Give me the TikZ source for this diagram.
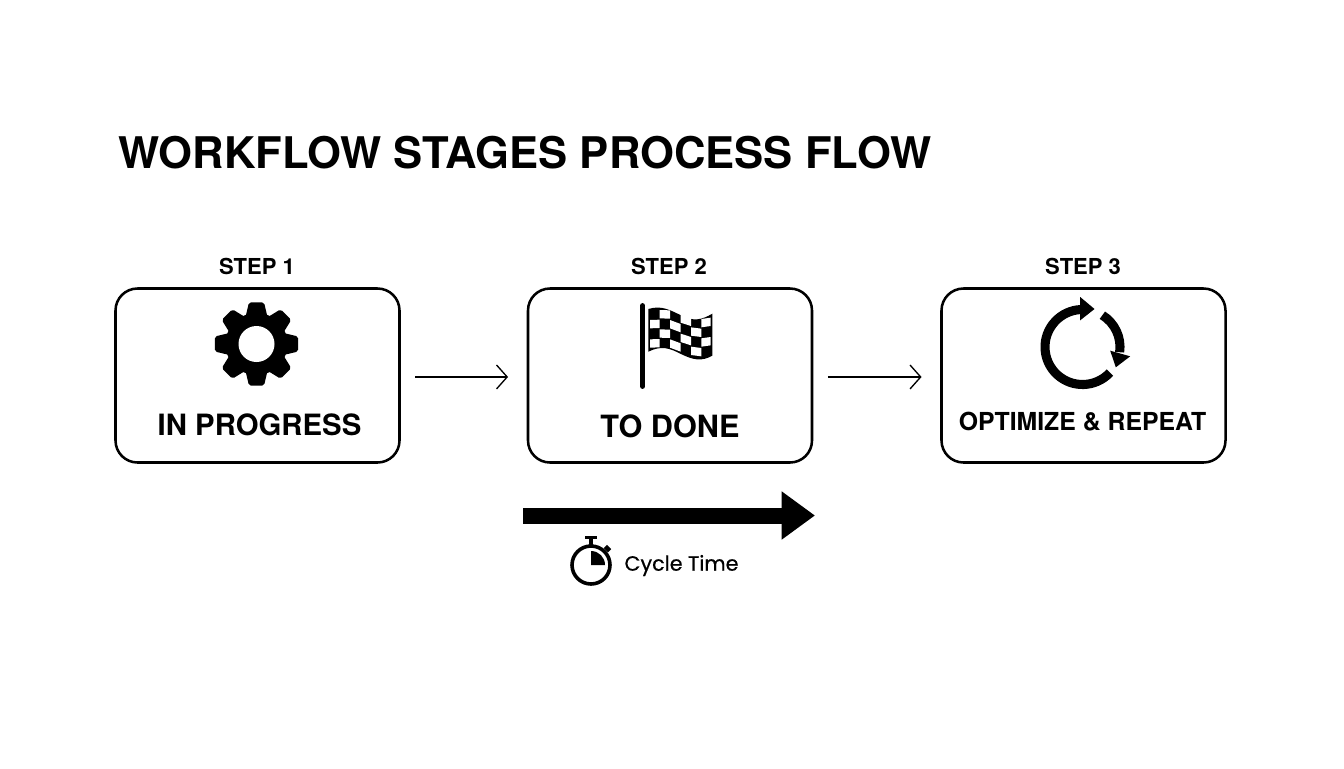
\documentclass[tikz,border=0pt]{standalone}
\usepackage{fontspec}
\usetikzlibrary{arrows.meta}
\setmainfont{TeX Gyre Heros}
\newfontfamily\timefont[FakeBold=0.6]{Poppins}
\tikzset{every picture/.style={line width=0.75pt}}
\tikzset{
  stagebox/.style={draw, line width=1.9pt, rounded corners=16.5pt, minimum width=213pt, minimum height=130.5pt, inner sep=0pt},
  steptext/.style={inner sep=0pt, font=\fontsize{16.5}{18}\selectfont\bfseries},
  stagetext/.style={inner sep=0pt, font=\fontsize{22}{24}\selectfont\bfseries},
  flowarrow/.style={line width=1pt, -{Straight Barb[length=8pt,width=18pt,line width=1pt]}, shorten <=11pt, shorten >=14pt},
  cyclearrow/.style={line width=12pt, -{Triangle[length=25pt,width=34.5pt]}},
}

\begin{document}
\begin{tikzpicture}[x=0.75pt,y=0.75pt,yscale=-1,xscale=1]
\useasboundingbox (0,0) rectangle (1344,768);

% Text Node
\draw (118,152.5) node [anchor=west, inner sep=0pt, font=\fontsize{32.7}{36}\selectfont\bfseries] (title) {WORKFLOW STAGES PROCESS FLOW};

%Shape: Rounded Rect
\draw (257.5,375.5) node [stagebox] (box1) {};
\draw (670,375.5) node [stagebox] (box2) {};
\draw (1083.5,375.5) node [stagebox] (box3) {};

% Text Node
\draw (257,266) node [steptext] (step1) {STEP 1};
\draw (669,266) node [steptext] (step2) {STEP 2};
\draw (1083,266) node [steptext] (step3) {STEP 3};
\draw (259.5,425) node [stagetext] (stage1) {IN PROGRESS};
\draw (670,426) node [stagetext, font=\fontsize{23}{24}\selectfont\bfseries] (stage2) {TO DONE};
\draw (1082.5,422) node [stagetext, font=\fontsize{18.6}{24}\selectfont\bfseries] (stage3) {OPTIMIZE \& REPEAT};
\draw (681.5,565.5) node [inner sep=0pt, font=\fontsize{15.5}{18}\selectfont\timefont] (cycle) {Cycle Time};

%Straight Lines
\draw [flowarrow] ([yshift=1.1pt]box1.east) -- ([yshift=1.1pt]box2.west);
\draw [flowarrow] ([yshift=1.1pt]box2.east) -- ([yshift=1.1pt]box3.west);

%Thick Arrow
\coordinate (cyclestart) at (523,515.5);
\coordinate (cycleend) at (815,515.5);
\draw [cyclearrow] (cyclestart) -- (cycleend);

%Shape: Gear
\fill (256.5,344) circle [radius=31];
\foreach \ang in {0,45,...,315} {
  \fill [rounded corners=1.5pt, shift={(256.5,344)}, rotate=\ang] (-11,-27) -- (-7.5,-41.7) -- (7.5,-41.7) -- (11,-27) -- cycle;
}
\fill [white] (256.5,344) circle [radius=18];

%Shape: Flag
\begin{scope}[shift={(620,295)},scale=1/3]
\draw [line width=3.9pt, line cap=round] (68,32) -- (68,274);
\fill (85,42) .. controls (125,30) and (150,45) .. (185,62) .. controls (220,80) and (245,75) .. (277,56) -- (277,182) .. controls (245,200) and (220,195) .. (185,178) .. controls (150,160) and (125,150) .. (85,170) -- cycle;
\foreach \xa/\xb/\ya/\yb/\rows in {
  119/150/45/46/{0,2}, 182/213/58/68/{0,2}, 244/272/72/68/{0,2},
  90/119/46/45/{1,3}, 150/182/46/58/{1,3}, 213/244/68/72/{1,3}} {
  \foreach \r in \rows {
    \fill [white] (\xa,\ya+\r*29) -- (\xb,\yb+\r*29) -- (\xb,\yb+\r*29+25) -- (\xa,\ya+\r*29+25) -- cycle;
  }
}
\end{scope}

%Shape: Refresh
\begin{scope}[shift={(1082.5,347)}]
\draw [line width=6.8pt] (43:37.5) arc [start angle=43, end angle=267, radius=37.5];
\fill (-2.3,-50) -- (12,-38) -- (-2.3,-26.7) -- cycle;
\draw [line width=6.8pt] (-58:37.5) arc [start angle=-58, end angle=8, radius=37.5];
\fill (27.7,3.7) -- (47.7,9.3) -- (33.3,20.3) -- cycle;
\end{scope}

%Shape: Stopwatch
\begin{scope}[shift={(591,565)}]
\draw [line width=2.7pt] (0,0) circle [radius=19];
\fill (0,0) -- (0,-14) arc [start angle=-90, end angle=0, radius=14] -- cycle;
\fill (-6,-29.5) rectangle (6,-26);
\fill (-2,-26) rectangle (2,-19);
\fill [rotate=45] (-3,-25.5) rectangle (3,-21);
\end{scope}
\end{tikzpicture}
\end{document}
